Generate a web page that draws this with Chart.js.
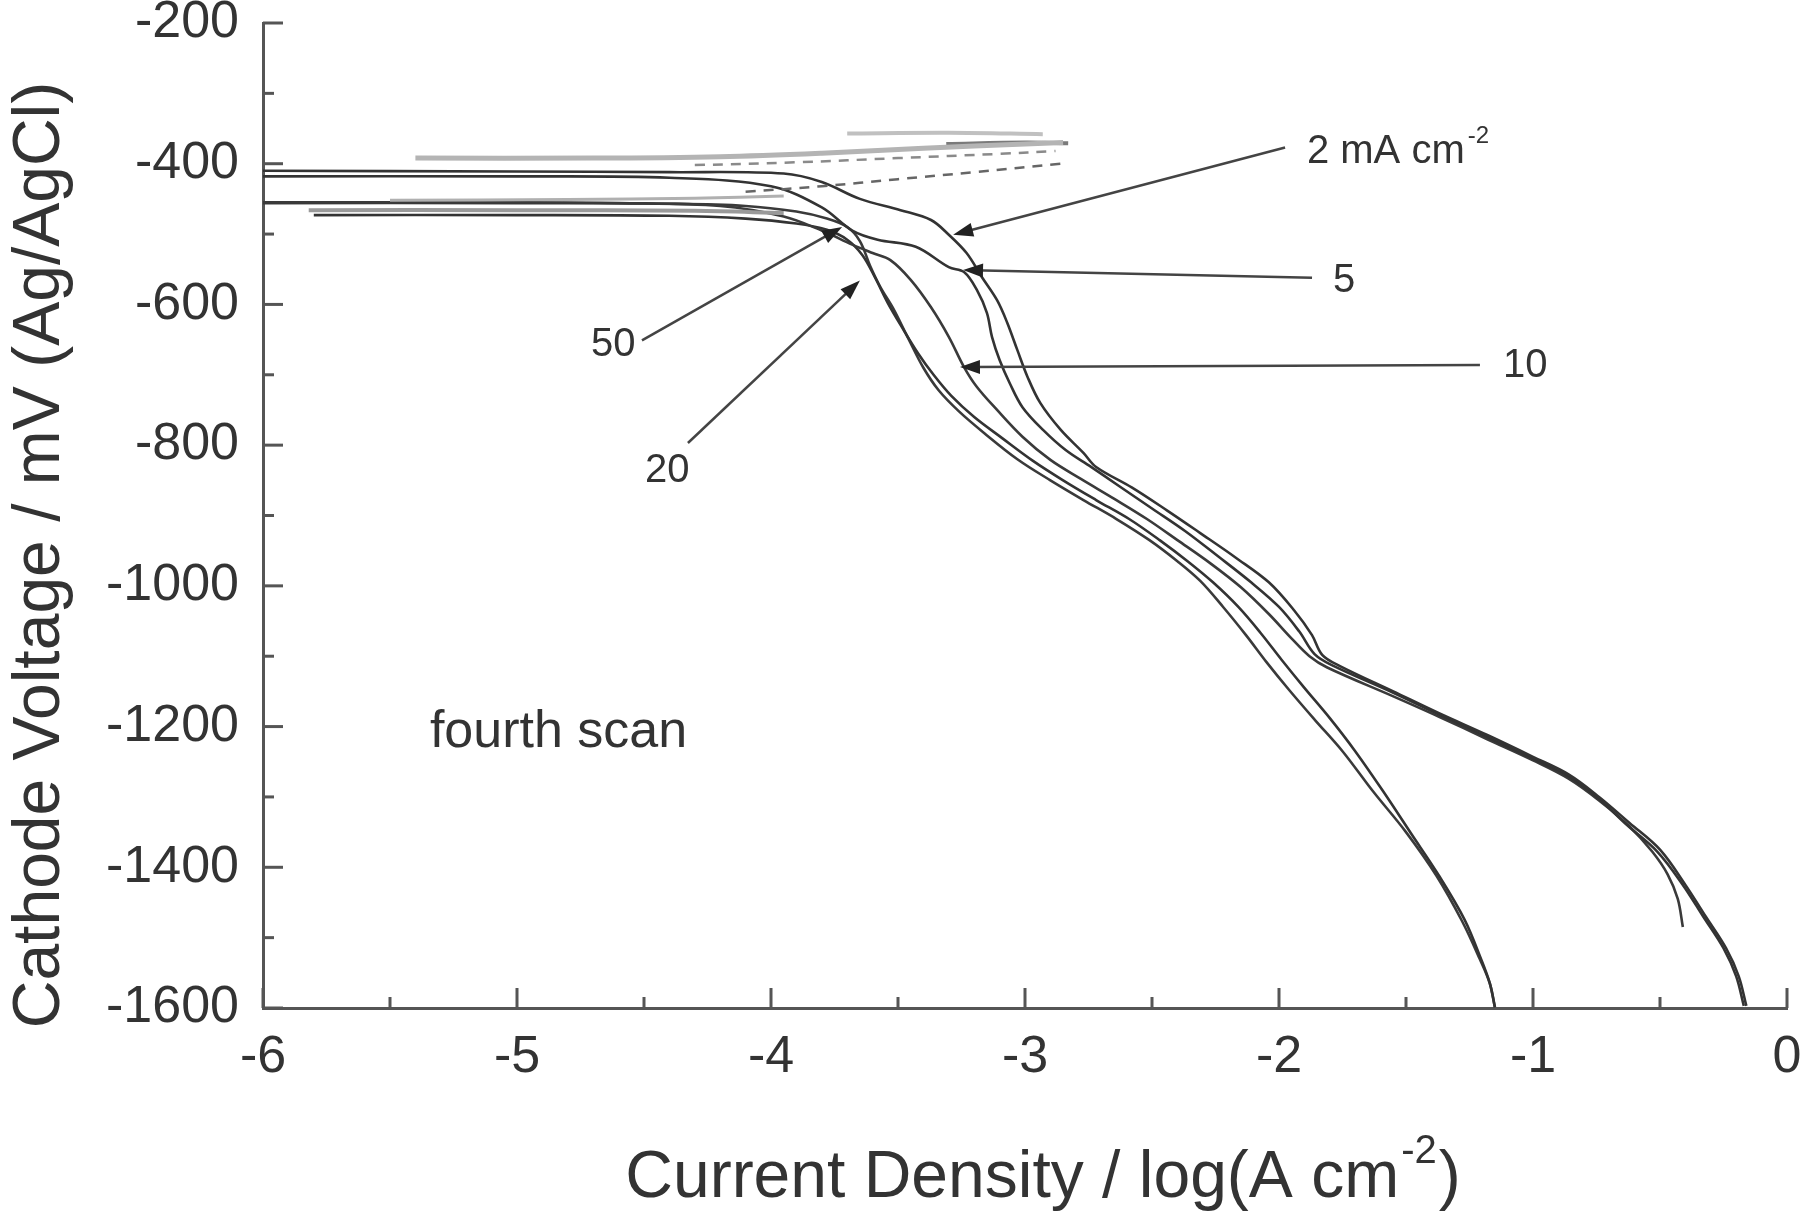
<!DOCTYPE html>
<html>
<head>
<meta charset="utf-8">
<script src="https://cdn.jsdelivr.net/npm/chart.js@4.4.1/dist/chart.umd.min.js"></script>
<style>
  html, body { margin: 0; padding: 0; background: #fff; }
</style>
</head>
<body>
<canvas id="polChart" width="1800" height="1218"></canvas>
<script>
// fourth scan, log(A cm-2) against mV (Ag/AgCl)
const x2 = [-6.00, -5.00, -4.40, -3.95, -3.80, -3.65, -3.49, -3.37, -3.30, -3.23, -3.17, -3.11, -3.07, -3.03, -2.99, -2.94, -2.86, -2.77, -2.72, -2.58, -2.44, -2.31, -2.17, -2.04, -1.94, -1.87, -1.83, -1.76, -1.55, -1.37, -1.18, -1.00, -0.86, -0.74, -0.62, -0.50, -0.40, -0.32, -0.24, -0.19, -0.16]
const y2 = [-410, -411, -412, -414, -426, -450, -466, -480, -501, -527, -561, -594, -626, -665, -703, -740, -778, -811, -831, -860, -893, -925, -960, -995, -1035, -1070, -1098, -1114, -1150, -1181, -1212, -1243, -1268, -1300, -1337, -1375, -1425, -1470, -1515, -1555, -1597]

const x5 = [-6.00, -5.00, -4.40, -4.00, -3.80, -3.68, -3.58, -3.43, -3.30, -3.24, -3.19, -3.15, -3.13, -3.10, -3.06, -3.01, -2.93, -2.84, -2.74, -2.63, -2.50, -2.37, -2.24, -2.11, -2.00, -1.92, -1.86, -1.79, -1.55, -1.37, -1.18, -1.00, -0.86, -0.74, -0.63, -0.51, -0.41, -0.33, -0.25, -0.20, -0.17]
const y5 = [-418, -418, -420, -432, -462, -495, -508, -518, -547, -554, -579, -612, -646, -679, -712, -746, -778, -807, -831, -858, -890, -922, -958, -995, -1030, -1065, -1097, -1113, -1152, -1183, -1215, -1246, -1271, -1303, -1340, -1378, -1425, -1470, -1515, -1555, -1597]

const x10 = [-6.00, -5.00, -4.60, -4.20, -3.95, -3.80, -3.68, -3.60, -3.53, -3.45, -3.37, -3.30, -3.24, -3.19, -3.11, -3.01, -2.90, -2.78, -2.65, -2.52, -2.40, -2.27, -2.15, -2.04, -1.95, -1.88, -1.81, -1.55, -1.37, -1.18, -1.00, -0.86, -0.74, -0.62, -0.53, -0.47, -0.43, -0.41]
const y10 = [-455, -455, -456, -460, -475, -495, -515, -527, -537, -565, -604, -646, -689, -717, -750, -788, -821, -848, -876, -905, -935, -968, -1002, -1040, -1075, -1100, -1116, -1157, -1186, -1218, -1248, -1274, -1305, -1342, -1378, -1410, -1445, -1485]

const x20 = [-5.80, -5.00, -4.40, -4.10, -3.90, -3.78, -3.70, -3.64, -3.59, -3.54, -3.48, -3.42, -3.36, -3.29, -3.20, -3.09, -2.97, -2.85, -2.72, -2.59, -2.47, -2.36, -2.26, -2.16, -2.07, -1.99, -1.90, -1.80, -1.70, -1.59, -1.48, -1.37, -1.27, -1.205, -1.17, -1.15]
const y20 = [-473, -473, -474, -478, -485, -494, -508, -530, -562, -598, -635, -670, -700, -730, -760, -790, -822, -850, -878, -905, -935, -965, -995, -1030, -1068, -1105, -1145, -1188, -1235, -1292, -1352, -1412, -1474, -1530, -1565, -1599]

const x50 = [-6.00, -5.00, -4.40, -4.10, -3.90, -3.78, -3.70, -3.65, -3.61, -3.57, -3.52, -3.46, -3.40, -3.34, -3.26, -3.16, -3.03, -2.90, -2.77, -2.64, -2.51, -2.40, -2.31, -2.22, -2.13, -2.05, -1.96, -1.86, -1.75, -1.63, -1.50, -1.38, -1.28, -1.21, -1.17, -1.15]
const y50 = [-456, -456, -457, -460, -468, -478, -490, -510, -545, -575, -605, -648, -690, -722, -752, -783, -820, -850, -878, -905, -935, -965, -993, -1030, -1070, -1108, -1148, -1190, -1235, -1292, -1350, -1412, -1476, -1530, -1565, -1599]

// anodic / noisy traces near the rest potential
const xNoiseA = [-5.40, -4.70, -4.20, -3.80, -3.40, -3.00, -2.85]
const yNoiseA = [-392, -392, -390, -385, -378, -372, -370]
const xNoiseB = [-3.70, -3.30, -2.93]
const yNoiseB = [-357, -356, -358]
const xNoiseC = [-3.31, -3.00, -2.83]
const yNoiseC = [-372, -370, -371]
const xNoiseD = [-5.82, -5.00, -4.30, -3.95]
const yNoiseD = [-466, -466, -467, -470]
const xNoiseE = [-5.50, -4.80, -4.30, -3.95]
const yNoiseE = [-452, -451, -449, -446]
const xDashA = [-4.10, -3.80, -3.50, -3.20, -2.86]
const yDashA = [-440, -432, -422, -412, -400]
const xDashB = [-4.30, -3.90, -3.50, -3.10, -2.88]
const yDashB = [-402, -398, -392, -386, -382]

const xMajor = [-6, -5, -4, -3, -2, -1, 0]
const xMinor = [-5.5, -4.5, -3.5, -2.5, -1.5, -0.5]
const yMajor = [-1600, -1400, -1200, -1000, -800, -600, -400, -200]
const yMinor = [-1500, -1300, -1100, -900, -700, -500, -300]

const fontFamily = '"Liberation Sans", Arial, sans-serif'
const ink = '#333'
const axisInk = '#555'

function pts(xs, ys) {
  return xs.map((v, i) => ({ x: v, y: ys[i] }))
}

function trace(xs, ys, color, width, dash) {
  return {
    data: pts(xs, ys),
    showLine: true,
    borderColor: color,
    borderWidth: width,
    borderDash: dash || [],
    pointRadius: 0,
    tension: 0.35
  }
}

const datasets = [
  trace(xNoiseA, yNoiseA, '#b4b4b4', 5),
  trace(xNoiseB, yNoiseB, '#c0c0c0', 4),
  trace(xNoiseC, yNoiseC, '#7a7a7a', 4),
  trace(xNoiseD, yNoiseD, '#9a9a9a', 4),
  trace(xNoiseE, yNoiseE, '#b0b0b0', 3),
  trace(xDashA, yDashA, '#666', 2.5, [10, 8]),
  trace(xDashB, yDashB, '#8a8a8a', 2.5, [10, 8]),
  trace(x2, y2, '#333', 2.6),
  trace(x5, y5, '#333', 2.6),
  trace(x10, y10, '#3a3a3a', 2.6),
  trace(x20, y20, '#333', 2.6),
  trace(x50, y50, '#3a3a3a', 2.6)
]

// arrows and labels, in data coordinates
const notes = [
  { text: '2 mA cm', sup: '-2', at: [-1.89, -399], tail: [-1.976, -377], tip: [-3.283, -501] },
  { text: '5', at: [-1.787, -582], tail: [-1.87, -562], tip: [-3.244, -551] },
  { text: '10', at: [-1.118, -703], tail: [-1.209, -686], tip: [-3.256, -689] },
  { text: '50', at: [-4.709, -673], tail: [-4.508, -651], tip: [-3.72, -490] },
  { text: '20', at: [-4.496, -852], tail: [-4.327, -797], tip: [-3.65, -566] }
]

function arrow(ctx, x0, y0, x1, y1) {
  const a = Math.atan2(y1 - y0, x1 - x0)
  const L = 20, W = 7
  ctx.beginPath()
  ctx.moveTo(x0, y0)
  ctx.lineTo(x1 - 10 * Math.cos(a), y1 - 10 * Math.sin(a))
  ctx.stroke()
  ctx.beginPath()
  ctx.moveTo(x1, y1)
  ctx.lineTo(x1 - L * Math.cos(a) + W * Math.sin(a), y1 - L * Math.sin(a) - W * Math.cos(a))
  ctx.lineTo(x1 - L * Math.cos(a) - W * Math.sin(a), y1 - L * Math.sin(a) + W * Math.cos(a))
  ctx.closePath()
  ctx.fill()
}

const extras = {
  id: 'extras',
  afterDraw(chart) {
    const { ctx, scales: { x, y } } = chart
    ctx.save()

    // inward ticks
    ctx.strokeStyle = axisInk
    ctx.lineWidth = 3
    const drawTick = (px, py, dx, dy) => {
      ctx.beginPath(); ctx.moveTo(px, py); ctx.lineTo(px + dx, py + dy); ctx.stroke()
    }
    xMajor.forEach(v => drawTick(x.getPixelForValue(v), y.bottom, 0, -20))
    xMinor.forEach(v => drawTick(x.getPixelForValue(v), y.bottom, 0, -11))
    yMajor.forEach(v => drawTick(x.left, y.getPixelForValue(v), 20, 0))
    yMinor.forEach(v => drawTick(x.left, y.getPixelForValue(v), 11, 0))

    // arrows
    ctx.strokeStyle = '#444'
    ctx.fillStyle = '#222'
    ctx.lineWidth = 2.5
    notes.forEach(n => {
      arrow(ctx, x.getPixelForValue(n.tail[0]), y.getPixelForValue(n.tail[1]),
        x.getPixelForValue(n.tip[0]), y.getPixelForValue(n.tip[1]))
    })

    // labels
    ctx.fillStyle = ink
    ctx.textBaseline = 'alphabetic'
    ctx.textAlign = 'left'
    notes.forEach(n => {
      const px = x.getPixelForValue(n.at[0]), py = y.getPixelForValue(n.at[1])
      ctx.font = '40px ' + fontFamily
      ctx.fillText(n.text, px, py)
      if (n.sup) {
        const w = ctx.measureText(n.text).width
        ctx.font = '24px ' + fontFamily
        ctx.fillText(n.sup, px + w + 3, py - 20)
      }
    })

    ctx.font = '52px ' + fontFamily
    ctx.fillText('fourth scan', x.getPixelForValue(-5.343), y.getPixelForValue(-1229))

    // axis titles
    ctx.font = '66px ' + fontFamily
    ctx.textAlign = 'left'
    const main = 'Current Density / log(A cm'
    const wMain = ctx.measureText(main).width
    ctx.font = '40px ' + fontFamily
    const wSup = ctx.measureText('-2').width
    ctx.font = '66px ' + fontFamily
    const wEnd = ctx.measureText(')').width
    const total = wMain + wSup + 4 + wEnd
    const tx = 1043 - total / 2
    const ty = 1197
    ctx.fillText(main, tx, ty)
    ctx.font = '40px ' + fontFamily
    ctx.fillText('-2', tx + wMain + 2, ty - 34)
    ctx.font = '66px ' + fontFamily
    ctx.fillText(')', tx + wMain + wSup + 4, ty)

    ctx.translate(59, 555)
    ctx.rotate(-Math.PI / 2)
    ctx.textAlign = 'center'
    ctx.fillText('Cathode Voltage / mV (Ag/AgCl)', 0, 0)

    ctx.restore()
  }
}

const ctx = document.getElementById('polChart').getContext('2d')
const polChart = new Chart(ctx, {
  type: 'scatter',
  data: { datasets },
  options: {
    responsive: false,
    animation: false,
    devicePixelRatio: 1,
    layout: { padding: { top: 23, right: 13, bottom: 0, left: 0 } },
    plugins: {
      legend: { display: false },
      tooltip: { enabled: false }
    },
    scales: {
      x: {
        type: 'linear',
        min: -6,
        max: 0,
        afterBuildTicks: s => { s.ticks = xMajor.map(v => ({ value: v })) },
        afterFit: s => { s.height = 210; s.paddingLeft = 0; s.paddingRight = 0 },
        grid: { drawOnChartArea: false, drawTicks: false },
        border: { color: axisInk, width: 3 },
        ticks: {
          color: ink,
          font: { family: fontFamily, size: 52 },
          padding: 18,
          maxRotation: 0,
          autoSkip: false,
          callback: v => String(v)
        }
      },
      y: {
        type: 'linear',
        min: -1600,
        max: -200,
        afterBuildTicks: s => { s.ticks = yMajor.map(v => ({ value: v })) },
        afterFit: s => { s.width = 263; s.paddingTop = 0; s.paddingBottom = 0 },
        grid: { drawOnChartArea: false, drawTicks: false },
        border: { color: axisInk, width: 3 },
        ticks: {
          color: ink,
          font: { family: fontFamily, size: 52 },
          padding: 24,
          autoSkip: false,
          callback: v => String(v)
        }
      }
    }
  },
  plugins: [extras]
})
</script>
</body>
</html>
